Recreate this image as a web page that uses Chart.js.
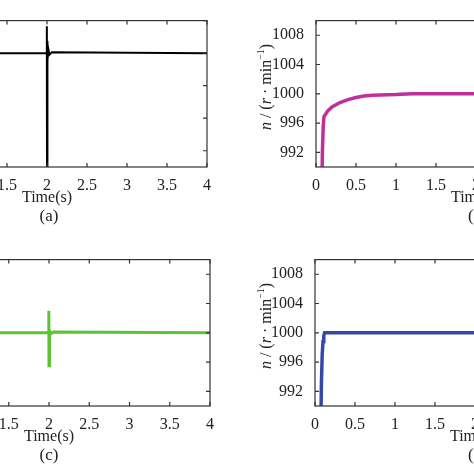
<!DOCTYPE html>
<html><head><meta charset="utf-8">
<script src="https://cdn.jsdelivr.net/npm/chart.js@4"></script>
<style>
html,body{margin:0;padding:0;width:474px;height:474px;overflow:hidden;background:#fff;font-family:"Liberation Serif",serif;}
.c{position:absolute;}
.lbl{position:absolute;font-size:17px;color:#222;transform:translateX(-50%);white-space:nowrap;}
.yt{position:absolute;font-size:16px;color:#222;white-space:nowrap;transform:translate(-50%,-50%) rotate(-90deg);}
</style></head><body>
<div class="c" style="left:-173px;top:7px;width:385px;height:200px"><canvas id="ca"></canvas></div>
<div class="c" style="left:256px;top:7px;width:385px;height:200px"><canvas id="cb"></canvas></div>
<div class="c" style="left:-172px;top:246px;width:387px;height:200px"><canvas id="cc"></canvas></div>
<div class="c" style="left:255px;top:246px;width:385px;height:200px"><canvas id="cd"></canvas></div>
<div class="lbl" style="left:49px;top:206px">(a)</div>
<div class="lbl" style="left:478px;top:206px">(b)</div>
<div class="lbl" style="left:49px;top:445px">(c)</div>
<div class="lbl" style="left:478px;top:445px">(d)</div>
<div class="yt" style="left:265px;top:87px"><i>n</i> / (<i>r</i> · min<sup style="font-size:10px">−1</sup>)</div>
<div class="yt" style="left:265px;top:326px"><i>n</i> / (<i>r</i> · min<sup style="font-size:10px">−1</sup>)</div>
<script>
const xTicks=[0,0.5,1,1.5,2,2.5,3,3.5,4];
const xTickLabels=['0','0.5','1','1.5','2','2.5','3','3.5','4'];
const yTicksA=[988,992,996,1000,1004];
const yTicks=[992,996,1000,1004,1008];
// (a) black
const tA=[0,1.99,1.998,2.0,2.003,2.008,2.015,2.03,2.06,4];
const vA=[1000,1000,1003.3,985,1001.5,999,1000.6,999.8,1000.1,1000];
// (b) magenta
const tB=[0.07,0.08,0.09,0.1,0.15,0.2,0.3,0.4,0.5,0.6,0.7,0.8,1.0,1.2,1.5,2,4];
const vB=[985,992,995.5,996.9,997.7,998.2,998.8,999.2,999.5,999.7,999.8,999.85,999.9,1000,1000,1000,1000];
// (c) green
const tC=[0,1.99,1.998,2.0,2.003,2.01,2.03,2.06,4];
const vC=[1000,1000,1003,995.5,999.2,1000.3,999.9,1000.1,1000];
// (d) blue
const tD=[0.07,0.08,0.09,0.1,0.11,0.12,0.15,4];
const vD=[985,993,997,998.8,999.6,1000,1000,1000];

const frame={id:'frame',afterDraw(ch){
  const {ctx,chartArea:a,scales}=ch;
  ctx.save();ctx.strokeStyle='#333';ctx.lineWidth=1.2;
  ctx.strokeRect(a.left,a.top,a.right-a.left,a.bottom-a.top);
  ctx.beginPath();
  scales.x.ticks.forEach(t=>{const p=scales.x.getPixelForValue(t.value);
    ctx.moveTo(p,a.bottom);ctx.lineTo(p,a.bottom-4);ctx.moveTo(p,a.top);ctx.lineTo(p,a.top+4);});
  scales.y.ticks.forEach(t=>{const p=scales.y.getPixelForValue(t.value);
    ctx.moveTo(a.left,p);ctx.lineTo(a.left+4,p);ctx.moveTo(a.right,p);ctx.lineTo(a.right-4,p);});
  ctx.stroke();ctx.restore();}};

function make(id,t,v,color,lw,ymin,ymax,yt){
  new Chart(document.getElementById(id),{type:'line',
    data:{datasets:[{data:t.map((x,i)=>({x,y:v[i]})),borderColor:color,borderWidth:lw,pointRadius:0,tension:0}]},
    options:{responsive:true,maintainAspectRatio:false,animation:false,
      layout:{padding:0},
      plugins:{legend:{display:false},tooltip:{enabled:false}},
      scales:{
        x:{type:'linear',min:0,max:4,afterBuildTicks(s){s.ticks=xTicks.map(value=>({value}));},
          grid:{display:false},border:{display:false},
          ticks:{color:'#222',font:{family:'Liberation Serif',size:16},padding:1,maxRotation:0,autoSkip:false,
            callback:(val)=>xTickLabels[xTicks.indexOf(val)]},
          title:{display:true,text:'Time(s)',color:'#222',font:{family:'Liberation Serif',size:16},padding:{top:-3,bottom:0}},
          afterFit(s){s.height=40;}},
        y:{min:ymin,max:ymax,grid:{display:false},border:{display:false},
          afterBuildTicks(s){s.ticks=yt.map(value=>({value}));},
          ticks:{color:'#222',font:{family:'Liberation Serif',size:16},padding:4,callback:(val)=>String(val)},
          afterFit(s){s.width=60;}}}},
    plugins:[frame]});
}
make('ca',tA,vA,'#000',2,986,1004,yTicksA);
make('cb',tB,vB,'#c0309a',3.5,990,1010,yTicks);
make('cc',tC,vC,'#5cc236',3,990,1010,yTicks);
make('cd',tD,vD,'#3349a8',3.5,990,1010,yTicks);
</script></body></html>
